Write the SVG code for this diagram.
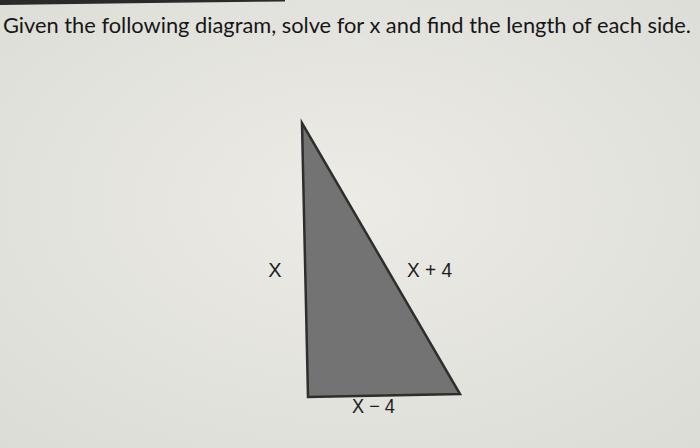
<svg xmlns="http://www.w3.org/2000/svg" width="700" height="448" viewBox="0 0 700 448">
<defs>
<radialGradient id="bg" cx="0.5" cy="0.45" r="0.75">
<stop offset="0" stop-color="#ecebe6"/>
<stop offset="1" stop-color="#dcdcd6"/>
</radialGradient>
<style>
.lbl{font-family:"Liberation Sans",Arial,sans-serif;font-size:20px;fill:#1e1e1e}
.title{font-family:Lato,"Liberation Sans",sans-serif;font-size:21px;fill:#161616}
</style>
</defs>
<rect width="700" height="448" fill="url(#bg)"/>
<polygon points="0,0 285,0 285,1.5 150,3 0,5" fill="#2a2a2a"/>
<text class="title" x="3" y="33" textLength="688" lengthAdjust="spacingAndGlyphs">Given the following diagram, solve for x and find the length of each side.</text>
<g id="triangle">
<polygon points="302,123 308,397 460,394" fill="#737373" stroke="#2e2e2e" stroke-width="2.5" stroke-linejoin="miter"/>
</g>
<g id="connectors"/>
<g id="label-x"><text class="lbl" x="275" y="277" text-anchor="middle">X</text></g>
<g id="label-x-plus-4"><text class="lbl" x="407" y="277" textLength="45" lengthAdjust="spacingAndGlyphs">X + 4</text></g>
<g id="label-x-minus-4"><text class="lbl" x="352" y="413" textLength="43" lengthAdjust="spacingAndGlyphs">X − 4</text></g>
</svg>
